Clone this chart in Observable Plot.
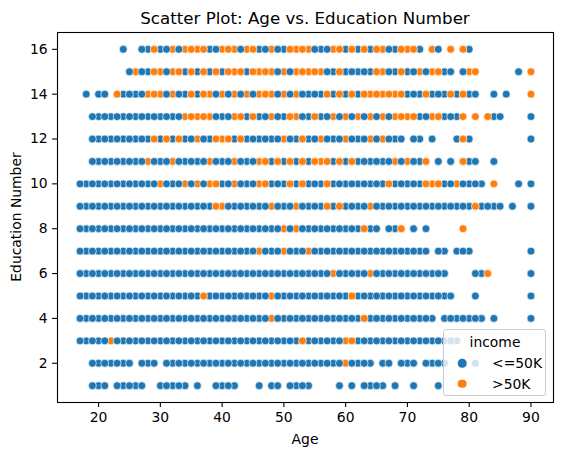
<!DOCTYPE html>
<html>
<head>
<meta charset="utf-8">
<script src="https://cdn.jsdelivr.net/npm/d3@7"></script>
<script src="https://cdn.jsdelivr.net/npm/@observablehq/plot@0.6"></script>
<style>
  html, body { margin: 0; padding: 0; background: #fff; }
  #wrap { position: relative; width: 563px; height: 455px; font-family: "DejaVu Sans", sans-serif; color: #000; overflow: hidden; }
  #plot { position: absolute; left: 0; top: 30px; }
  .lbl { position: absolute; white-space: nowrap; transform: translate(-50%, -50%); }
  #title { left: 305px; top: 18px; font-size: 16.67px; line-height: 19px; }
  #xlabel { left: 305px; top: 438.5px; font-size: 13.9px; line-height: 16px; }
  #ylabel { left: 16px; top: 217px; font-size: 13.9px; line-height: 16px; transform: translate(-50%, -50%) rotate(-90deg); }
  #legend { position: absolute; left: 443px; top: 329px; width: 103px; height: 67px; box-sizing: border-box;
            border: 1px solid #cccccc; border-radius: 3px; background: rgba(255,255,255,0.8); font-size: 13.9px; }
  #legend .t { position: absolute; left: 51px; top: 12px; transform: translate(-50%, -50%); line-height: 16px; white-space: nowrap; }
  #legend .m { position: absolute; width: 8.6px; height: 8.6px; border-radius: 50%; transform: translate(-50%, -50%); box-shadow: 0 0 0 0.6px #fff; }
  #legend .s { position: absolute; left: 48px; transform: translateY(-50%); line-height: 16px; white-space: nowrap; }
</style>
</head>
<body>
<div id="wrap">
  <div id="plot"></div>
  <div id="title" class="lbl">Scatter Plot: Age vs. Education Number</div>
  <div id="xlabel" class="lbl">Age</div>
  <div id="ylabel" class="lbl">Education Number</div>
  <div id="legend"></div>
</div>
<script>
// ---- data ----
const educationNums = [16, 15, 14, 13, 12, 11, 10, 9, 8, 7, 6, 5, 4, 3, 2, 1];
// ages observed at each education number (ranges are contiguous runs of ages seen in the picture)
const agesObserved = [
  "24,27-72,74,75,77,79,80",
  "25-77,79-81,88,90",
  "18,20,21,23-81,84,86,90",
  "19-79,81,83-85,90",
  "19-69,71,72,74,78-80,90",
  "19-73,75,77,79-81,84",
  "17-82,84,88,90",
  "17-85,87,90",
  "17-65,67-69,71,73,79",
  "17-73,75,76,78-80,90",
  "17-76,81-83,90",
  "17-77,81,90",
  "17-74,76-82,84,90",
  "17-78",
  "19-25,27-29,31-64,66,67,69-71,73-76,81",
  "19-21,23-27,30-34,36,39-42,46,48,49,51-54,59,61,63-66,68,71,75"
];
// ages where the >50K (orange) point shows on top
const highIncomeAges = [
  [29,32,34,35,36,37,40,41,42,44,45,48,51,52,53,54,58,59,61,63,65,66,69,70,71,74,77,79],
  [26,29,30,32,33,35,37,39,41,42,43,45,46,47,48,50,52,53,54,55,56,59,65,66,69,72,74,75,80,81,90],
  [23,28,29,30,32,35,37,38,40,42,44,46,47,48,50,52,57,59,61,63,64,65,66,67,68,69,73,77,79,90],
  [34,35,36,37,38,42,43,45,48,51,52,55,58,60,62,64,66,68,69,70,71,74,75,79,81,83],
  [29,31,33,36,39,40,41,43,50,53,56,60,64,66,79],
  [28,32,38,42,46,47,49,51,53,55,56,57,59,61,68,70,73,79],
  [30,34,36,38,39,42,46,47,51,53,57,67,73,74,75,78,84],
  [39,40,48,52,57,59,64,81],
  [50,52,63,69,79],
  [46,50,54],
  [58,64,83],
  [37,48,61],
  [48,63],
  [22,53,60,61],
  [60],
  []
];
const incomeLabels = ["<=50K", ">50K"];
const incomeColors = ["#1f77b4", "#ff7f0e"];
const xTicks = [20, 30, 40, 50, 60, 70, 80, 90];
const yTicks = [2, 4, 6, 8, 10, 12, 14, 16];

// ---- build table ----
function expandList(spec) {
  const out = [];
  for (const part of spec.split(",")) {
    const [a, b] = part.split("-").map(Number);
    if (b === undefined) out.push(a);
    else for (let v = a; v <= b; v++) out.push(v);
  }
  return out;
}
const points = [];
educationNums.forEach((edu, i) => {
  const hi = new Set(highIncomeAges[i]);
  const ages = new Set(expandList(agesObserved[i]));
  for (const a of hi) ages.add(a);
  for (const age of ages) points.push({age, edu, income: hi.has(age) ? incomeLabels[1] : incomeLabels[0]});
});
// draw order: alternate ages so the overlaps interleave like the reference
points.sort((p, q) => (p.age % 2) - (q.age % 2) || p.edu - q.edu || p.age - q.age);

const chart = Plot.plot({
  width: 563,
  height: 425,
  marginTop: 2,
  marginBottom: 53,
  marginLeft: 57,
  marginRight: 10,
  style: {fontFamily: "DejaVu Sans, sans-serif", fontSize: "13.9px", color: "#000", background: "#fff", overflow: "visible"},
  x: {domain: [13.35, 93.65]},
  y: {domain: [0.25, 16.75]},
  color: {domain: incomeLabels, range: incomeColors},
  marks: [
    Plot.dot(points, {x: "age", y: "edu", fill: "income", r: 3.95, stroke: "#fff", strokeWidth: 0.67}),
    Plot.frame({stroke: "#000", strokeWidth: 1.1}),
    Plot.axisX({ticks: xTicks, tickSize: 4.9, tickPadding: 4.9, strokeWidth: 1.1, label: null}),
    Plot.axisY({ticks: yTicks, tickSize: 4.9, tickPadding: 4.9, strokeWidth: 1.1, label: null})
  ]
});
document.getElementById("plot").appendChild(chart);

// legend
const legend = document.getElementById("legend");
const t = document.createElement("div");
t.className = "t"; t.textContent = "income";
legend.appendChild(t);
incomeLabels.forEach((lab, i) => {
  const cy = 33 + i * 20.6;
  const m = document.createElement("div");
  m.className = "m";
  m.style.left = "18px"; m.style.top = cy + "px"; m.style.background = incomeColors[i];
  legend.appendChild(m);
  const s = document.createElement("div");
  s.className = "s"; s.style.top = cy + "px"; s.textContent = lab;
  legend.appendChild(s);
});
</script>
</body>
</html>
